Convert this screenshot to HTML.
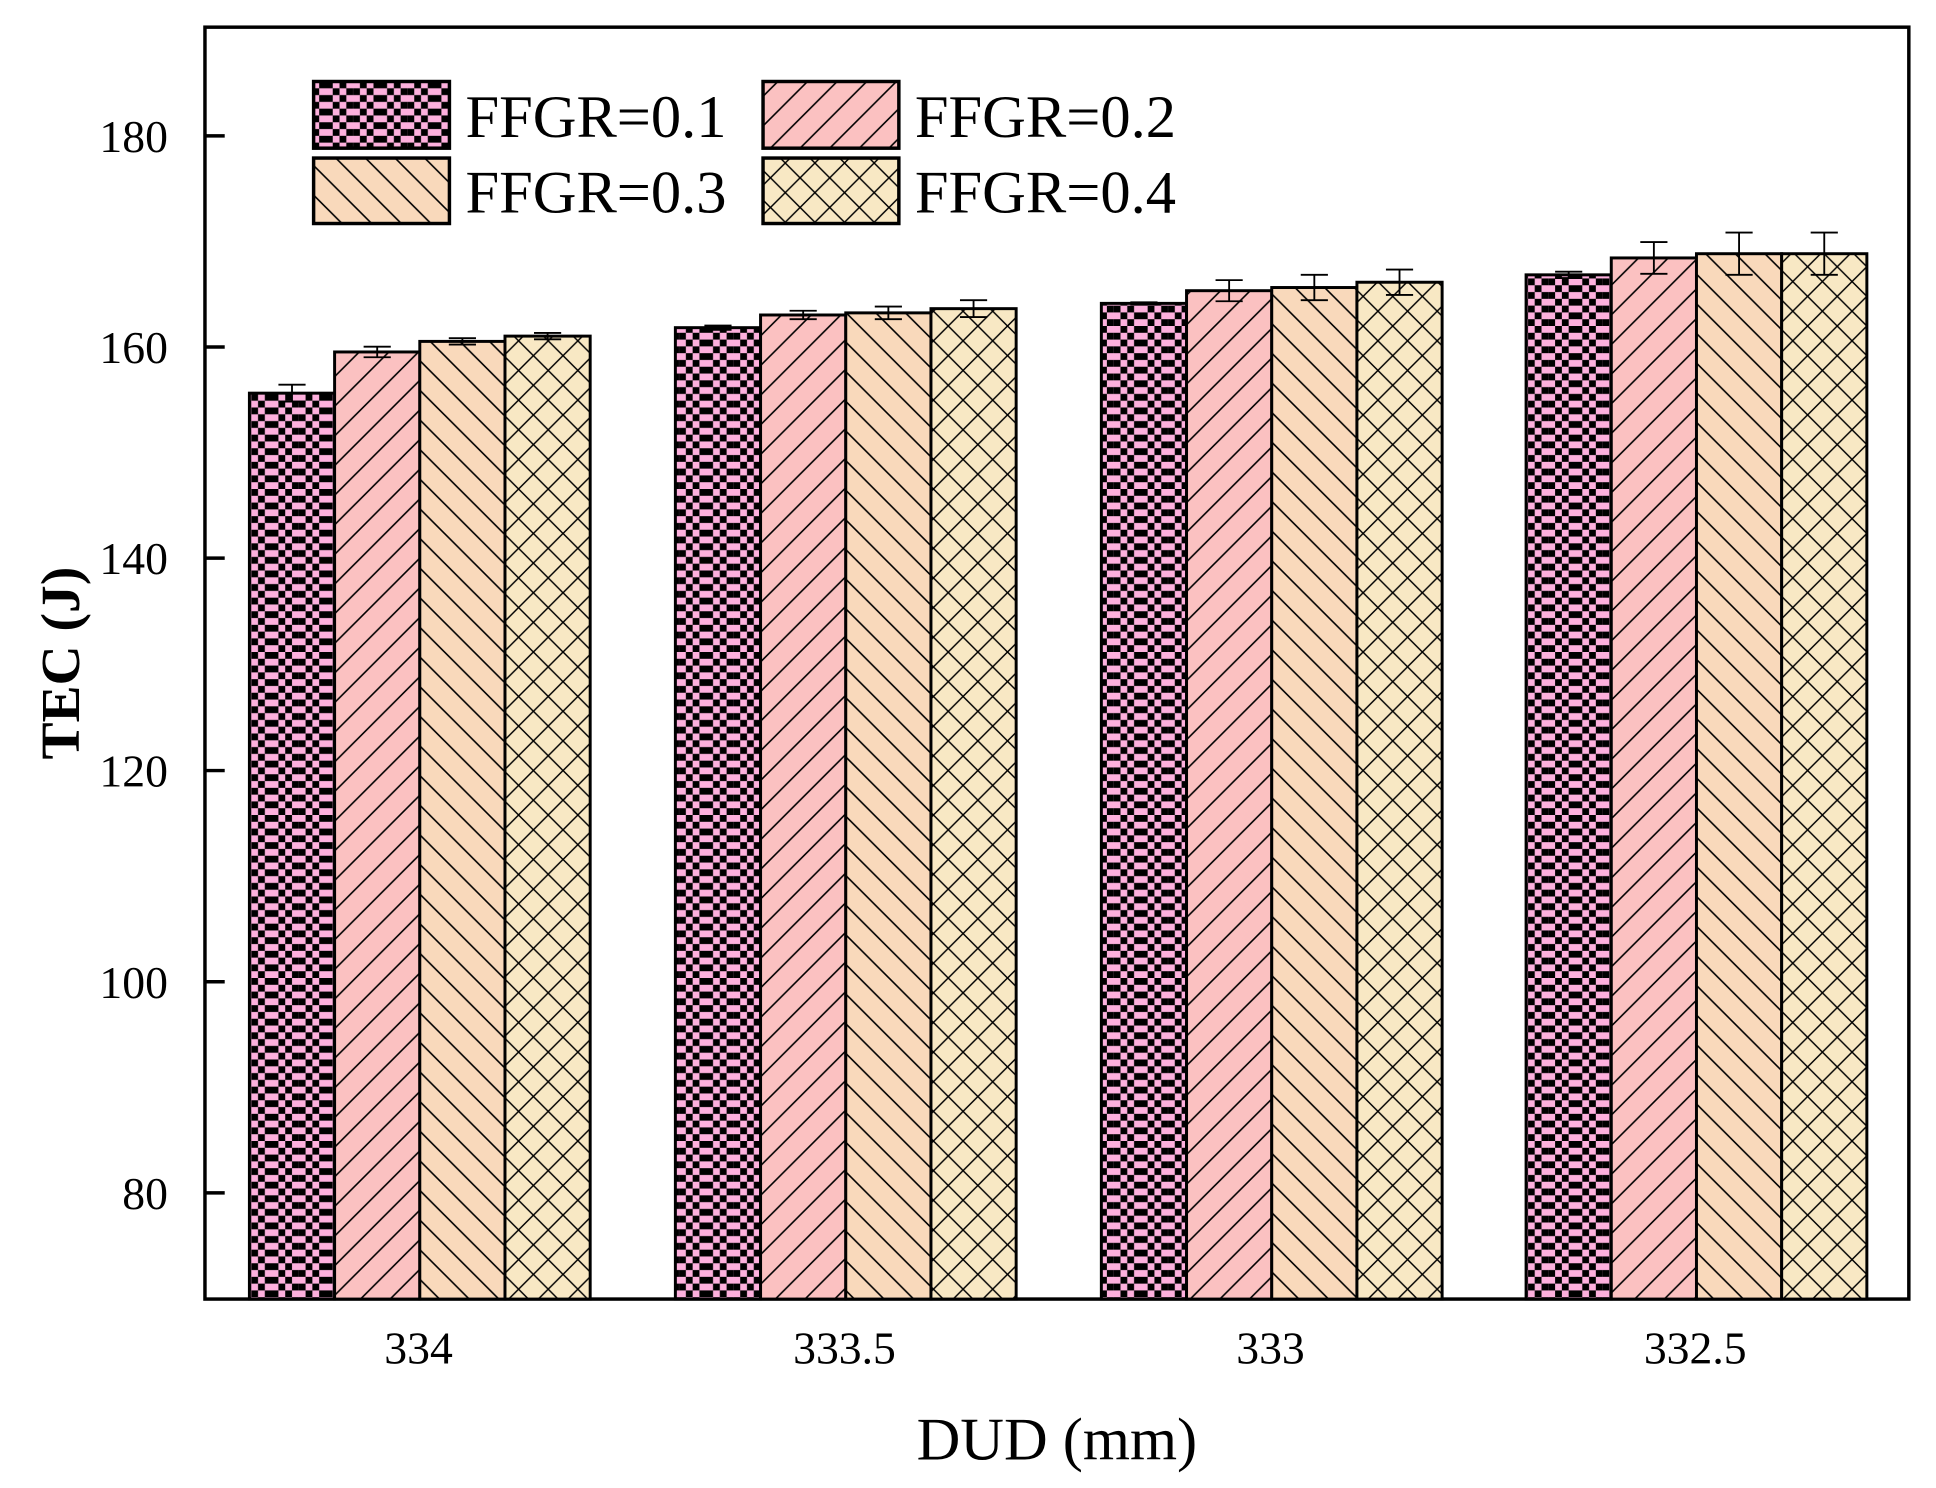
<!DOCTYPE html>
<html><head><meta charset="utf-8"><style>html,body{margin:0;padding:0;background:#fff}svg{display:block}</style></head>
<body>
<svg width="1936" height="1488" viewBox="0 0 1568 1205" preserveAspectRatio="none" xmlns="http://www.w3.org/2000/svg" font-family="Liberation Serif, serif">
<defs>
<pattern id="p1" patternUnits="userSpaceOnUse" width="44" height="22">
<rect width="44" height="22" fill="#fdb0dd"/>
<g fill="#000">
<rect x="0" y="0" width="5.5" height="5.5"/><rect x="5.5" y="5.5" width="5.5" height="5.5"/><rect x="11" y="11" width="5.5" height="5.5"/><rect x="16.5" y="16.5" width="5.5" height="5.5"/>
<rect x="22" y="16.5" width="5.5" height="5.5"/><rect x="27.5" y="11" width="5.5" height="5.5"/><rect x="33" y="5.5" width="5.5" height="5.5"/><rect x="38.5" y="0" width="5.5" height="5.5"/>
<rect x="0" y="11" width="5.5" height="5.5"/><rect x="5.5" y="16.5" width="5.5" height="5.5"/><rect x="16.5" y="5.5" width="5.5" height="5.5"/><rect x="22" y="5.5" width="5.5" height="5.5"/>
<rect x="38.5" y="11" width="5.5" height="5.5"/><rect x="33" y="16.5" width="5.5" height="5.5"/><rect x="11" y="0" width="5.5" height="5.5"/><rect x="27.5" y="0" width="5.5" height="5.5"/>
</g></pattern>
<pattern id="p2" patternUnits="userSpaceOnUse" width="24" height="24">
<rect width="24" height="24" fill="#fbc1c1"/>
<path d="M-6,6 L6,-6 M0,24 L24,0 M18,30 L30,18" stroke="#000" stroke-width="1.3"/></pattern>
<pattern id="p3" patternUnits="userSpaceOnUse" width="24" height="24">
<rect width="24" height="24" fill="#f9d9bb"/>
<path d="M-6,18 L6,30 M0,0 L24,24 M18,-6 L30,6" stroke="#000" stroke-width="1.3"/></pattern>
<pattern id="p4" patternUnits="userSpaceOnUse" width="24" height="24">
<rect width="24" height="24" fill="#f8e8c4"/>
<path d="M-6,6 L6,-6 M0,24 L24,0 M18,30 L30,18 M-6,18 L6,30 M0,0 L24,24 M18,-6 L30,6" stroke="#000" stroke-width="1.2"/></pattern>
</defs>
<rect x="166" y="22" width="1380" height="1030" fill="none" stroke="#000" stroke-width="2.8"/>
<g stroke="#000" stroke-width="2.8">
<line x1="166" y1="110" x2="182" y2="110"/><line x1="166" y1="281" x2="182" y2="281"/><line x1="166" y1="452" x2="182" y2="452"/><line x1="166" y1="624" x2="182" y2="624"/><line x1="166" y1="795" x2="182" y2="795"/><line x1="166" y1="966" x2="182" y2="966"/>
</g>
<g font-size="37" text-anchor="end">
<text x="136" y="123">180</text><text x="136" y="294">160</text><text x="136" y="465">140</text><text x="136" y="637">120</text><text x="136" y="808">100</text><text x="136" y="979">80</text>
</g>
<g font-size="37" text-anchor="middle">
<text x="339" y="1104">334</text><text x="684" y="1104">333.5</text><text x="1029" y="1104">333</text><text x="1373" y="1104">332.5</text>
</g>
<text x="856" y="1182" font-size="49" text-anchor="middle">DUD (mm)</text>
<text transform="translate(64,537) rotate(-90)" font-size="45" font-weight="bold" text-anchor="middle">TEC (J)</text>
<g id="bars" stroke="#000" stroke-width="2.4"></g>
<g font-size="49">
<rect x="254" y="66" width="110" height="54" fill="url(#p1)" stroke="#000" stroke-width="2.8"/>
<text x="377" y="111">FFGR=0.1</text>
<rect x="618" y="66" width="110" height="54" fill="url(#p2)" stroke="#000" stroke-width="2.8"/>
<text x="741" y="111">FFGR=0.2</text>
<rect x="254" y="128" width="110" height="53" fill="url(#p3)" stroke="#000" stroke-width="2.8"/>
<text x="377" y="172">FFGR=0.3</text>
<rect x="618" y="128" width="110" height="53" fill="url(#p4)" stroke="#000" stroke-width="2.8"/>
<text x="741" y="172">FFGR=0.4</text>
</g>
<script>
var vals=[[155.7,159.6,160.6,161.1],[161.9,163.1,163.3,163.7],[164.2,165.4,165.7,166.2],[166.9,168.5,168.9,168.9]];
var errs=[[0.8,0.5,0.3,0.3],[0.2,0.4,0.6,0.8],[0.1,1.0,1.2,1.2],[0.3,1.5,2.0,2.0]];
var cs=[339,684,1029,1373];var g=document.getElementById('bars');var ns='http://www.w3.org/2000/svg';
function y(v){return 966-(v-80)*8.555;}
for(var i=0;i<4;i++)for(var j=0;j<4;j++){var x=cs[i]-137+j*69;var r=document.createElementNS(ns,'rect');
r.setAttribute('x',x);r.setAttribute('y',y(vals[i][j]));r.setAttribute('width',69);r.setAttribute('height',1052-y(vals[i][j]));r.setAttribute('fill','url(#p'+(j+1)+')');g.appendChild(r);
var cx=x+34.5,t=y(vals[i][j]+errs[i][j]),b=y(vals[i][j]-errs[i][j]);
var p=document.createElementNS(ns,'path');p.setAttribute('d','M'+cx+','+t+'V'+b+'M'+(cx-11)+','+t+'H'+(cx+11)+'M'+(cx-11)+','+b+'H'+(cx+11));p.setAttribute('stroke-width','1.5');p.setAttribute('fill','none');g.appendChild(p);}
</script>
</svg>
</body></html>
